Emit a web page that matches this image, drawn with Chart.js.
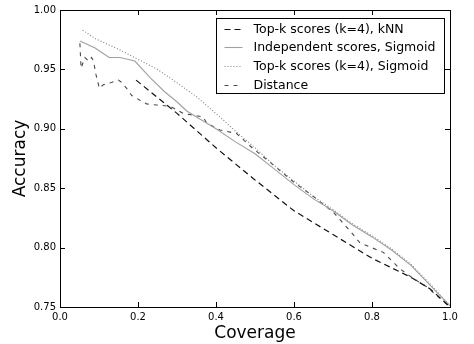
<!DOCTYPE html>
<html>
<head>
<meta charset="utf-8">
<script src="https://cdn.jsdelivr.net/npm/chart.js@4.4.0/dist/chart.umd.min.js"></script>
<style>
  html, body { margin: 0; padding: 0; background: #fff; }
  #myChart { display: block; }
</style>
</head>
<body>
<canvas id="myChart" width="474" height="344"></canvas>
<script>
// series values
let knnX = [0.195, 0.30, 0.40, 0.496, 0.60, 0.70, 0.80, 0.90, 0.95, 1.0];
let knnY = [0.941, 0.913, 0.884, 0.858, 0.831, 0.811, 0.791, 0.775, 0.765, 0.750];

let indepX = [0.051, 0.09, 0.126, 0.154, 0.192, 0.231, 0.269, 0.299, 0.325, 0.35, 0.40, 0.45, 0.50, 0.55, 0.60, 0.65, 0.70, 0.75, 0.80, 0.85, 0.90, 0.95, 1.0];
let indepY = [0.974, 0.968, 0.960, 0.960, 0.957, 0.943, 0.931, 0.923, 0.915, 0.910, 0.900, 0.889, 0.879, 0.866, 0.853, 0.841, 0.831, 0.819, 0.809, 0.798, 0.785, 0.768, 0.751];

let sigX = [0.058, 0.09, 0.15, 0.197, 0.25, 0.29, 0.35, 0.41, 0.45, 0.50, 0.55, 0.60, 0.65, 0.70, 0.75, 0.80, 0.85, 0.90, 0.95, 1.0];
let sigY = [0.983, 0.976, 0.967, 0.959, 0.950, 0.941, 0.927, 0.910, 0.898, 0.884, 0.869, 0.856, 0.843, 0.832, 0.820, 0.810, 0.799, 0.786, 0.769, 0.751];

let distX = [0.051, 0.054, 0.064, 0.073, 0.081, 0.086, 0.092, 0.101, 0.111, 0.132, 0.15, 0.158, 0.171, 0.184, 0.205, 0.222, 0.248, 0.282, 0.316, 0.35, 0.367, 0.376, 0.41, 0.453, 0.496, 0.538, 0.60, 0.65, 0.70, 0.722, 0.744, 0.769, 0.829, 0.872, 0.906, 0.94, 1.0];
let distY = [0.972, 0.951, 0.960, 0.957, 0.960, 0.957, 0.946, 0.934, 0.937, 0.939, 0.941, 0.939, 0.934, 0.928, 0.924, 0.921, 0.920, 0.919, 0.913, 0.911, 0.910, 0.905, 0.899, 0.896, 0.883, 0.872, 0.855, 0.843, 0.830, 0.822, 0.814, 0.804, 0.796, 0.782, 0.774, 0.767, 0.750];

let labels = ['Top-k scores (k=4), kNN', 'Independent scores, Sigmoid', 'Top-k scores (k=4), Sigmoid', 'Distance'];
let xTicks = [0, 0.2, 0.4, 0.6, 0.8, 1.0];
let yTicks = [0.75, 0.80, 0.85, 0.90, 0.95, 1.00];

const FONT = "'DejaVu Sans', sans-serif";

function toPoints(xs, ys) {
    return xs.map((x, i) => ({ x: x, y: ys[i] }));
}

function makeSet(label, xs, ys, color, dash, width) {
    return {
        label: label,
        data: toPoints(xs, ys),
        showLine: true,
        borderColor: color,
        backgroundColor: color,
        borderDash: dash,
        borderWidth: width,
        pointRadius: 0,
        pointHoverRadius: 0,
        fill: false,
        tension: 0
    };
}

// box, inward ticks on every side, and the boxed legend (matplotlib look)
const framePlugin = {
    id: 'frame',
    afterDatasetsDraw(chart) {
        const ctx = chart.ctx;
        const a = chart.chartArea;
        const xs = chart.scales.x, ys = chart.scales.y;
        ctx.save();
        ctx.strokeStyle = '#000';
        ctx.lineWidth = 1;
        ctx.setLineDash([]);
        ctx.strokeRect(Math.round(a.left) + 0.5, Math.round(a.top) + 0.5, Math.round(a.right - a.left), Math.round(a.bottom - a.top));
        ctx.beginPath();
        xTicks.forEach(v => {
            let px = Math.round(xs.getPixelForValue(v)) + 0.5;
            ctx.moveTo(px, a.bottom); ctx.lineTo(px, a.bottom - 5);
            ctx.moveTo(px, a.top); ctx.lineTo(px, a.top + 5);
        });
        yTicks.forEach(v => {
            let py = Math.round(ys.getPixelForValue(v)) + 0.5;
            ctx.moveTo(a.left, py); ctx.lineTo(a.left + 5, py);
            ctx.moveTo(a.right, py); ctx.lineTo(a.right - 5, py);
        });
        ctx.stroke();

        // legend
        let bw = 228, bh = 75;
        let bx = Math.round(a.right - 6 - bw) + 0.5;
        let by = Math.round(a.top + 8) + 0.5;
        ctx.fillStyle = '#fff';
        ctx.fillRect(bx, by, bw, bh);
        ctx.strokeStyle = '#000';
        ctx.strokeRect(bx, by, bw, bh);
        ctx.font = '12.5px ' + FONT;
        ctx.textBaseline = 'middle';
        ctx.textAlign = 'left';
        chart.data.datasets.forEach((ds, i) => {
            let cy = Math.round(by + 10 + i * 18.8) + 0.5;
            ctx.strokeStyle = ds.borderColor;
            ctx.lineWidth = ds.borderWidth;
            ctx.setLineDash(ds.borderDash);
            ctx.beginPath();
            ctx.moveTo(bx + 8, cy);
            ctx.lineTo(bx + 26, cy);
            ctx.stroke();
            ctx.setLineDash([]);
            ctx.fillStyle = '#000';
            ctx.fillText(ds.label, bx + 37, cy);
        });
        ctx.restore();
    }
};

let ctx = document.querySelector('#myChart').getContext('2d');
let myChart = new Chart(ctx, {
    type: 'scatter',
    data: {
        datasets: [
            makeSet(labels[0], knnX, knnY, '#111111', [6, 4], 1.2),
            makeSet(labels[1], indepX, indepY, '#a0a0a0', [], 1.1),
            makeSet(labels[2], sigX, sigY, '#808080', [1, 2], 1.1),
            makeSet(labels[3], distX, distY, '#4a4a4a', [4, 5], 1.1)
        ]
    },
    options: {
        responsive: false,
        animation: false,
        devicePixelRatio: 1,
        layout: { padding: { left: 0, right: 24, top: 5, bottom: 0 } },
        plugins: {
            legend: { display: false },
            tooltip: { enabled: false }
        },
        scales: {
            x: {
                type: 'linear',
                min: 0,
                max: 1,
                afterBuildTicks: s => { s.ticks = xTicks.map(v => ({ value: v })); },
                afterFit: s => { s.height = 37; },
                grid: { display: false, drawTicks: false },
                border: { display: false },
                ticks: {
                    padding: 4,
                    maxRotation: 0,
                    color: '#000',
                    font: { family: FONT, size: 10 },
                    callback: v => Number(v).toFixed(1)
                },
                title: {
                    display: true,
                    text: 'Coverage',
                    color: '#000',
                    font: { family: FONT, size: 17 },
                    padding: { top: 0, bottom: 0 }
                }
            },
            y: {
                type: 'linear',
                min: 0.75,
                max: 1.0,
                afterBuildTicks: s => { s.ticks = yTicks.map(v => ({ value: v })); },
                afterFit: s => { s.width = 60; },
                grid: { display: false, drawTicks: false },
                border: { display: false },
                ticks: {
                    padding: 4,
                    color: '#000',
                    font: { family: FONT, size: 10 },
                    callback: v => Number(v).toFixed(2)
                },
                title: {
                    display: true,
                    text: 'Accuracy',
                    color: '#000',
                    font: { family: FONT, size: 17 },
                    padding: { top: 10, bottom: 0 }
                }
            }
        }
    },
    plugins: [framePlugin]
});
</script>
</body>
</html>
